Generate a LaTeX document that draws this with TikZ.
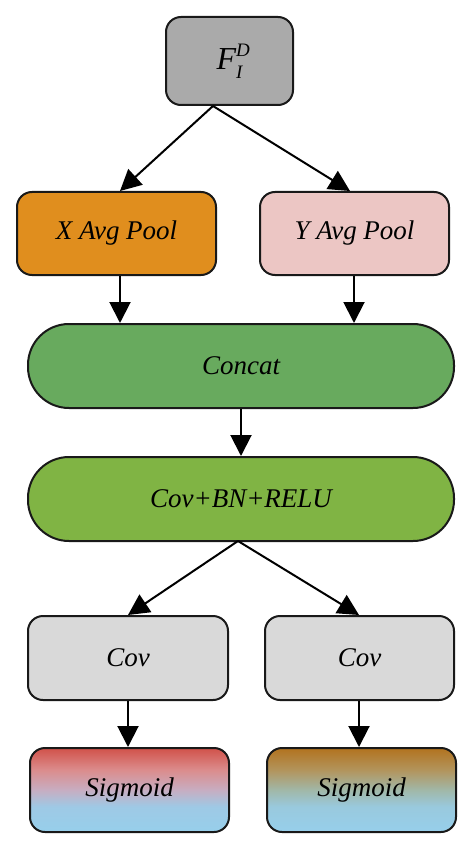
\documentclass[tikz,border=0pt]{standalone}
\usepackage{fontspec}
\setmainfont{Liberation Serif}
\usetikzlibrary{arrows.meta}
\definecolor{cF}{RGB}{170,170,170}
\definecolor{cX}{RGB}{224,142,30}
\definecolor{cY}{RGB}{236,198,196}
\definecolor{cCat}{RGB}{104,170,94}
\definecolor{cCBR}{RGB}{128,180,68}
\definecolor{cCov}{RGB}{217,217,217}
\pgfdeclareverticalshading{sigL}{100bp}{%
  rgb(0bp)=(0.59,0.81,0.92); rgb(25bp)=(0.59,0.81,0.92);
  rgb(40bp)=(0.62,0.79,0.90); rgb(50bp)=(0.78,0.68,0.76);
  rgb(62bp)=(0.86,0.55,0.55); rgb(75bp)=(0.82,0.32,0.29); rgb(100bp)=(0.82,0.32,0.29)}
\pgfdeclareverticalshading{sigR}{100bp}{%
  rgb(0bp)=(0.59,0.81,0.92); rgb(25bp)=(0.59,0.81,0.92);
  rgb(40bp)=(0.60,0.79,0.87); rgb(50bp)=(0.63,0.72,0.66);
  rgb(62bp)=(0.70,0.58,0.36); rgb(75bp)=(0.70,0.45,0.12); rgb(100bp)=(0.70,0.45,0.12)}
\begin{document}
\begin{tikzpicture}[x=1pt,y=-1pt,
  box/.style={draw=black!90, line width=2pt, rounded corners=15pt, inner sep=0pt,
    font=\fontsize{27}{32}\selectfont\itshape, text=black},
  pill/.style={box, rounded corners=41pt},
  arr/.style={-{Triangle[length=21pt,width=21pt]}, line width=2pt, draw=black}]
\useasboundingbox (0,0) rectangle (474,850);
\node[box, fill=cF, minimum width=127pt, minimum height=88pt, font=\fontsize{32}{36}\selectfont\itshape] (F) at (229.5,61)
  {F\makebox[0pt][l]{\raisebox{13pt}{\fontsize{19}{20}\selectfont D}}\raisebox{-9pt}{\fontsize{19}{20}\selectfont I}\hspace{6pt}};
\node[box, fill=cX, minimum width=199pt, minimum height=83pt] (X) at (116.5,233.5) {X Avg Pool};
\node[box, fill=cY, minimum width=189pt, minimum height=83pt] (Y) at (354.5,233.5) {Y Avg Pool};
\node[pill, fill=cCat, minimum width=426pt, minimum height=84pt] (C) at (241,366) {Concat};
\node[pill, fill=cCBR, minimum width=426pt, minimum height=84pt] (R) at (241,499) {Cov+BN+RELU};
\node[box, fill=cCov, minimum width=200pt, minimum height=84pt] (V1) at (128,658) {Cov};
\node[box, fill=cCov, minimum width=189pt, minimum height=84pt] (V2) at (359.5,658) {Cov};
\node[box, shading=sigL, shading angle=0, minimum width=199pt, minimum height=84pt] (S1) at (129.5,790) {Sigmoid};
\node[box, shading=sigR, shading angle=0, minimum width=189pt, minimum height=84pt] (S2) at (361.5,790) {Sigmoid};
\coordinate (Fo) at (213,106);
\draw[arr] (Fo) -- (X.north -| 120,0);
\draw[arr] (Fo) -- (Y.north -| 350,0);
\draw[arr] (X.south -| 120,0) -- (C.north -| 120,0);
\draw[arr] (Y.south -| 354,0) -- (C.north -| 354,0);
\draw[arr] (C.south -| 241,0) -- (R.north -| 241,0);
\coordinate (Ro) at (238,541);
\draw[arr] (Ro) -- (V1.north);
\draw[arr] (Ro) -- (V2.north -| 359,0);
\draw[arr] (V1.south) -- (S1.north -| V1.south);
\draw[arr] (V2.south -| 359,0) -- (S2.north -| 359,0);
\end{tikzpicture}
\end{document}
